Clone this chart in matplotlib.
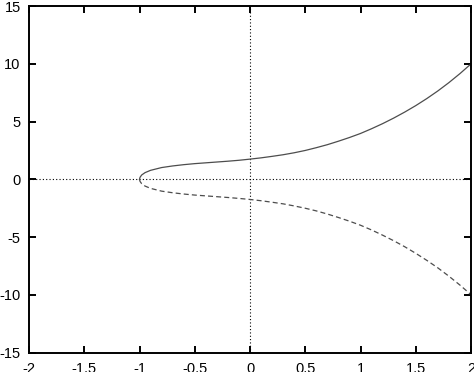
import matplotlib
matplotlib.use("Agg")
import matplotlib.pyplot as plt

# valores (rama superior y rama inferior)
x_sup = [-1.0, -0.995, -0.98, -0.95, -0.9, -0.8, -0.7, -0.6, -0.5, -0.4, -0.3, -0.2, -0.1,
         0.0, 0.1, 0.2, 0.3, 0.4, 0.5, 0.6, 0.7, 0.8, 0.9, 1.0,
         1.1, 1.2, 1.3, 1.4, 1.5, 1.6, 1.7, 1.8, 1.9, 2.0]
y_sup = [0.0, 0.18, 0.38, 0.58, 0.78, 1.02, 1.16, 1.27, 1.36, 1.43, 1.50, 1.57, 1.65,
         1.75, 1.86, 1.99, 2.13, 2.30, 2.50, 2.74, 3.00, 3.30, 3.62, 3.97,
         4.38, 4.82, 5.30, 5.82, 6.38, 6.99, 7.65, 8.37, 9.15, 9.99]

x_inf = [-1.0, -0.995, -0.98, -0.95, -0.9, -0.8, -0.7, -0.6, -0.5, -0.4, -0.3, -0.2, -0.1,
         0.0, 0.1, 0.2, 0.3, 0.4, 0.5, 0.6, 0.7, 0.8, 0.9, 1.0,
         1.1, 1.2, 1.3, 1.4, 1.5, 1.6, 1.7, 1.8, 1.9, 2.0]
y_inf = [0.0, -0.18, -0.38, -0.58, -0.78, -1.02, -1.16, -1.27, -1.36, -1.43, -1.50, -1.57, -1.65,
         -1.74, -1.85, -1.98, -2.12, -2.30, -2.50, -2.73, -3.00, -3.30, -3.62, -3.97,
         -4.38, -4.83, -5.31, -5.83, -6.40, -7.01, -7.66, -8.38, -9.15, -9.98]

x_ticks = [-2, -1.5, -1, -0.5, 0, 0.5, 1, 1.5, 2]
x_etiquetas = ["-2", "-1.5", "-1", "-0.5", "0", "0.5", "1", "1.5", "2"]
y_ticks = [-15, -10, -5, 0, 5, 10, 15]
y_etiquetas = ["-15", "-10", "-5", "0", "5", "10", "15"]

plt.rcParams['font.family'] = ['Liberation Sans', 'DejaVu Sans']

fig = plt.figure(figsize=(4.74, 3.72), dpi=100)
ax = fig.add_axes([29/474, 19.3/372, 442/474, 346.7/372])

# ejes en cero (punteados)
ax.axhline(0, color='black', lw=0.8, ls=(0, (1, 2)), zorder=1)
ax.axvline(0, color='black', lw=0.8, ls=(0, (1, 2)), zorder=1)

# curvas
ax.plot(x_sup, y_sup, color='0.3', lw=0.9, zorder=2)
ax.plot(x_inf, y_inf, color='0.3', lw=0.9, ls=(0, (4, 2.5)), zorder=2)

ax.set_xlim(-2, 2)
ax.set_ylim(-15, 15)
ax.set_xticks(x_ticks)
ax.set_xticklabels(x_etiquetas)
ax.set_yticks(y_ticks)
ax.set_yticklabels(y_etiquetas)

for s in ax.spines.values():
    s.set_linewidth(1.4)
ax.tick_params(direction='in', length=5, width=1.4, top=True, right=True,
               labelsize=10.5)
ax.tick_params(axis='x', pad=7)
ax.tick_params(axis='y', pad=6)

fig.savefig('out.png', dpi=100)
